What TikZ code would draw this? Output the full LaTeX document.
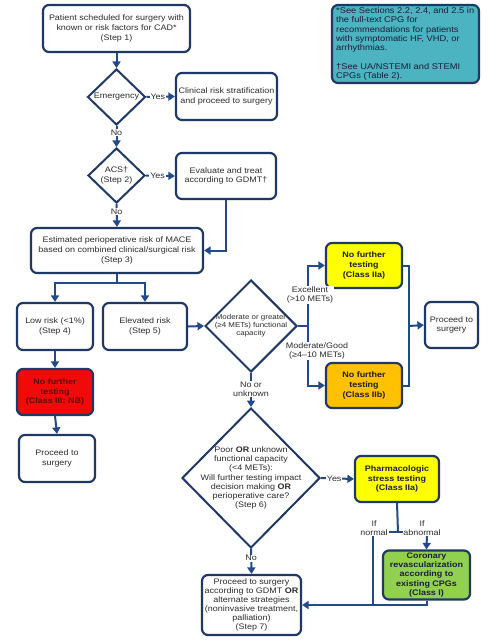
\documentclass[tikz,border=0pt]{standalone}
\usepackage{fontspec}
\setmainfont{Liberation Sans}[FakeStretch=1.12]
\usetikzlibrary{shapes.geometric,arrows.meta}
\definecolor{navy}{HTML}{1F3864}
\definecolor{lncol}{HTML}{234A88}
\definecolor{txt}{HTML}{2B2B2B}
\definecolor{boldtxt}{HTML}{1B1B3A}
\definecolor{redtxt}{HTML}{5C0A0A}
\definecolor{yel}{HTML}{FFFF00}
\definecolor{orng}{HTML}{FFC000}
\definecolor{redf}{HTML}{F20A0A}
\definecolor{grn}{HTML}{92D050}
\definecolor{teal}{HTML}{4BB4C0}
\newcommand\fA{\fontsize{8}{9.6}\selectfont}
\newcommand\fC{\fontsize{8}{9.1}\selectfont}
\newcommand\fB{\fontsize{7.1}{8.1}\selectfont}
\newcommand\fN{\fontsize{8.3}{9.3}\selectfont}
\begin{document}
\begin{tikzpicture}[x=1pt,y=-1pt,
  box/.style={draw=navy, line width=2.2pt, rounded corners=6pt, fill=white,
    align=center, inner sep=1pt, font=\fA, text=txt},
  cbox/.style={box, font=\fA\bfseries, text=boldtxt},
  dia/.style={draw=navy, line width=2pt, shape=diamond, inner sep=0pt, fill=white},
  dtxt/.style={align=center, inner sep=0pt, text=txt},
  ln/.style={draw=lncol, line width=2pt},
  arr/.style={ln, -{Triangle[length=6.5pt,width=8pt]}},
  lab/.style={fill=white, inner sep=0.8pt, font=\fC, text=txt, align=center}
]
\useasboundingbox (0,0) rectangle (500,644);
\fill[white] (0,0) rectangle (500,644);

% nodes
\node[box, minimum width=147pt, minimum height=47pt] (s1) at (116.5,28.5)
  {Patient scheduled for surgery with\\known or risk factors for CAD*\\(Step 1)};
\node[dia, minimum width=58pt, minimum height=56pt] (em) at (116.5,97) {};
\node[dtxt, font=\fA] (emt) at (em.center) {Emergency};
\node[box, minimum width=101pt, minimum height=47pt] (clin) at (226.5,96.5)
  {Clinical risk stratification\\and proceed to surgery};
\node[dia, minimum width=57pt, minimum height=55pt] (acs) at (116.5,175.5) {};
\node[dtxt, font=\fA] (acst) at (acs.center) {ACS†\\(Step 2)};
\node[box, minimum width=100pt, minimum height=46pt] (ev) at (226,176)
  {Evaluate and treat\\according to GDMT†};
\node[box, minimum width=172pt, minimum height=45pt] (s3) at (117,250.5)
  {Estimated perioperative risk of MACE\\based on combined clinical/surgical risk\\(Step 3)};
\node[box, minimum width=76pt, minimum height=47pt] (low) at (55,326.5)
  {Low risk (<1\%)\\(Step 4)};
\node[box, minimum width=84pt, minimum height=47pt] (elev) at (145,326.5)
  {Elevated risk\\(Step 5)};
\node[cbox, fill=redf, text=redtxt, minimum width=76pt, minimum height=46pt] (red) at (55,392)
  {No further\\testing\\(Class III: NB)};
\node[box, minimum width=76pt, minimum height=47pt] (p1) at (57,458.5)
  {Proceed to\\surgery};
\node[dia, minimum width=92pt, minimum height=92pt] (mod) at (251,326) {};
\node[dtxt, font=\fB] (modt) at (mod.center) {Moderate or greater\\(≥4 METs) functional\\capacity};
\node[cbox, fill=yel, minimum width=76pt, minimum height=45pt] (ya) at (364,265.5)
  {No further\\testing\\(Class IIa)};
\node[cbox, fill=orng, minimum width=76pt, minimum height=45pt] (yb) at (364,385.5)
  {No further\\testing\\(Class IIb)};
\node[box, minimum width=53pt, minimum height=46pt] (p2) at (451.5,325)
  {Proceed to\\surgery};
\node[dia, minimum width=138pt, minimum height=140pt] (d6) at (251,478) {};
\node[dtxt, font=\fC] (d6t) at (d6.center)
  {Poor \textbf{OR} unknown\\functional capacity\\(<4 METs):\\Will further testing impact\\decision making \textbf{OR}\\perioperative care?\\(Step 6)};
\node[cbox, fill=yel, minimum width=84pt, minimum height=46pt] (ph) at (397,479)
  {Pharmacologic\\stress testing\\(Class IIa)};
\node[cbox, fill=grn, font=\fC\bfseries, minimum width=87pt, minimum height=49pt] (gr) at (426.5,575)
  {Coronary\\revascularization\\according to\\existing CPGs\\(Class I)};
\node[box, font=\fC, minimum width=99pt, minimum height=60pt] (s7) at (251.5,605)
  {Proceed to surgery\\according to GDMT \textbf{OR}\\alternate strategies\\(noninvasive treatment,\\palliation)\\(Step 7)};
\node[draw=navy, line width=2.2pt, rounded corners=6pt, fill=teal,
  minimum width=147pt, minimum height=78pt] (note) at (405.5,44) {};
\node[anchor=west, align=left, inner sep=0pt, font=\fN, text=boldtxt] (notet) at (336,44)
  {*See Sections 2.2, 2.4, and 2.5 in\\the full-text CPG for\\recommendations for patients\\with symptomatic HF, VHD, or\\arrhythmias.\\[9.3pt]†See UA/NSTEMI and STEMI\\CPGs (Table 2).};

% connectors
\draw[arr] (s1.south) -- (em.north);
\draw[arr] (em.east) -- node[lab, pos=0.4] (y1) {Yes} (clin.west);
\draw[arr] (em.south) -- node[lab, pos=0.3] (n1) {No} (acs.north);
\draw[arr] (acs.east) -- node[lab, pos=0.4] (y2) {Yes} (ev.west);
\draw[arr] (acs.south) -- node[lab, pos=0.32] (n2) {No} (s3.north);
\draw[arr] (ev.south) |- (s3.east);

\coordinate (j1) at (117,283);
\draw[ln] (s3.south) -- (j1);
\draw[arr] (j1) -| (low.north);
\draw[arr] (j1) -| (elev.north);
\draw[arr] (low.south) -- (red.north);
\draw[arr] (red.south) -- (p1.north);
\draw[arr] (elev.east) -- (mod.west);

\coordinate (bm) at (308,326);
\draw[ln] (mod.east) -- (bm);
\draw[arr] (bm) |- (ya.west);
\draw[arr] (bm) |- (yb.west);
\node[lab] (lex) at (310,295) {Excellent\\(>10 METs)};
\node[lab] (lmg) at (317,351) {Moderate/Good\\(≥4–10 METs)};

\coordinate (rm) at (409,326);
\draw[ln] (ya.east) -| (rm);
\draw[ln] (yb.east) -| (rm);
\draw[arr] (rm) -- (p2.west);

\draw[arr] (mod.south) -- node[lab, pos=0.47] (nu) {No or\\unknown} (d6.north);
\draw[arr] (d6.east) -- node[lab, pos=0.4] (y3) {Yes} (ph.west);
\draw[arr] (d6.south) -- node[lab, pos=0.37] (n3) {No} (s7.north);

\coordinate (pt) at (398,532);
\coordinate (pl) at (373,532);
\coordinate (pr) at (427,532);
\coordinate (pb) at (373,605);
\draw[ln] (ph.south) -- (pt);
\draw[ln] (pl) -- (pr);
\draw[ln] (pl) -- (pb);
\draw[arr] (pr) -- (gr.north);
\draw[arr] (gr.south) |- (s7.east);
\node[lab] (lno) at (374,528) {If\\normal};
\node[lab] (lab2) at (422,528) {If\\abnormal};
\end{tikzpicture}
\end{document}
